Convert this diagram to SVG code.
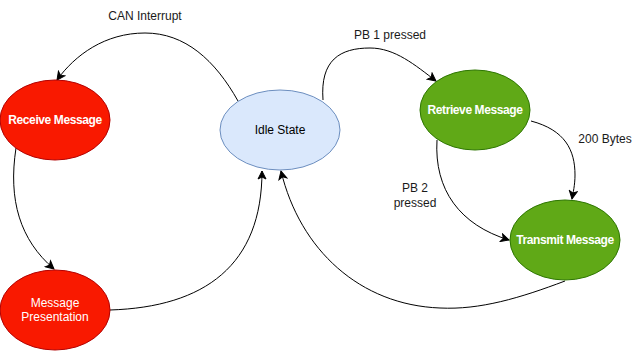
<svg xmlns="http://www.w3.org/2000/svg" width="641" height="351" viewBox="0 0 641 351">
<defs>
<style>
.red{fill:#f91900;stroke:#b20000;stroke-width:1}
.green{fill:#60a917;stroke:#2d7600;stroke-width:1}
.blue{fill:#dae8fc;stroke:#6c8ebf;stroke-width:1}
.nt{font-family:"Liberation Sans",Arial,sans-serif;font-size:12px;text-anchor:middle}
.w{fill:#ffffff}
.b{font-weight:bold;letter-spacing:-0.4px}
.k{fill:#000000}
.lbl{font-family:"Liberation Sans",Arial,sans-serif;font-size:12px;text-anchor:middle;fill:#1a1a1a}
.edge{fill:none;stroke:#000000;stroke-width:1;marker-end:url(#arr)}
</style>
<marker id="arr" viewBox="0 0 10 10" refX="9" refY="5" markerWidth="10" markerHeight="10" markerUnits="userSpaceOnUse" orient="auto">
<path d="M1,1 L9,5 L1,9 L3,5 Z" fill="#000" stroke="#000" stroke-width="1"/>
</marker>
</defs>
<g id="connectors">
<path class="edge" d="M238,101 C215,60 185,33 145,33 C105,33 75,55 57,80"/>
<path class="edge" d="M323,100 C320,60 340,48 370,48 C395,48 415,65 436,81"/>
<path class="edge" d="M531,121 C565,130 575,150 575,175 C575,185 573,193 572,199"/>
<path class="edge" d="M437,140 C434,190 460,225 509,240"/>
<path class="edge" d="M16,148 C8,200 20,240 54,269"/>
<path class="edge" d="M110,310 C205,307 262,265 262,171"/>
<path class="edge" d="M565,281 C520,298 480,310 440,308 C360,305 300,250 281,171"/>
</g>
<g id="labels">
<text class="lbl" x="145" y="20">CAN Interrupt</text>
<text class="lbl" x="390" y="39">PB 1 pressed</text>
<text class="lbl" x="605" y="143">200 Bytes</text>
<text class="lbl" x="415" y="192">PB 2</text>
<text class="lbl" x="415" y="207">pressed</text>
</g>
<g id="receive">
<ellipse class="red" cx="55" cy="120" rx="55" ry="40"/>
<text class="nt w b" x="55" y="124">Receive Message</text>
</g>
<g id="presentation">
<ellipse class="red" cx="55" cy="310" rx="55" ry="40"/>
<text class="nt w" x="55" y="306.5">Message</text>
<text class="nt w" x="55" y="320.5">Presentation</text>
</g>
<g id="idle">
<ellipse class="blue" cx="280" cy="130" rx="60" ry="40"/>
<text class="nt k" x="280" y="134">Idle State</text>
</g>
<g id="retrieve">
<ellipse class="green" cx="475" cy="110" rx="55" ry="40"/>
<text class="nt w b" x="475" y="114">Retrieve Message</text>
</g>
<g id="transmit">
<ellipse class="green" cx="565" cy="240" rx="55" ry="40"/>
<text class="nt w b" x="565" y="244">Transmit Message</text>
</g>
</svg>
